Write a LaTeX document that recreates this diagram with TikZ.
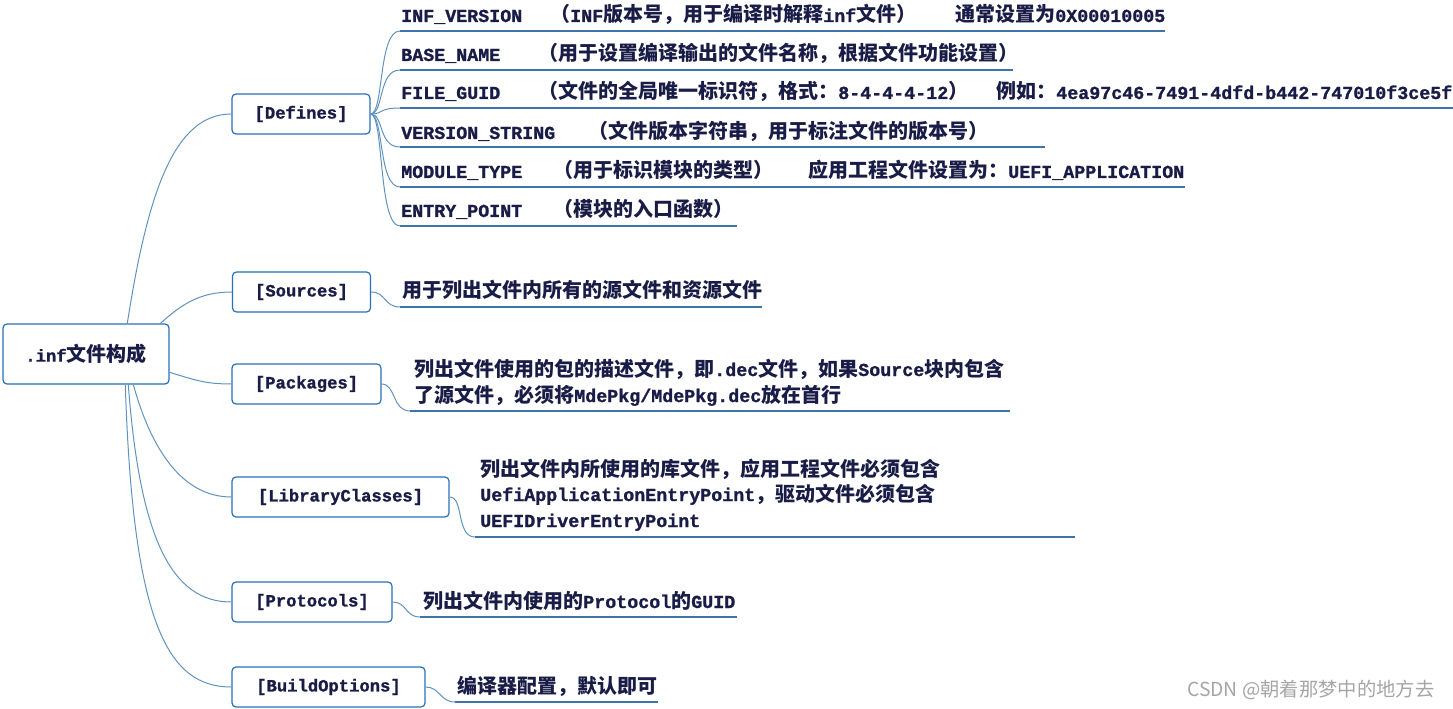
\documentclass[tikz,border=0pt]{standalone}
\usepackage{fontspec}
\setmainfont{Liberation Mono}[BoldFeatures={FakeBold=1.2}]
\newfontfamily\cjkf{Noto Sans CJK SC}
\newfontfamily\wmf{Noto Sans CJK SC}
\usetikzlibrary{calc}
\definecolor{txt}{RGB}{24,28,70}
\definecolor{boxc}{RGB}{40,112,184}
\definecolor{linec}{RGB}{96,146,192}
\definecolor{ulc}{RGB}{62,116,170}
\definecolor{wmc}{RGB}{165,165,165}
\newcommand\M[1]{{\fontsize{13.75}{16}\selectfont\bfseries #1}}
\newcommand\C[1]{{\cjkf\fontsize{15}{18}\selectfont\bfseries #1}}
\begin{document}
\begin{tikzpicture}[x=0.75pt,y=-0.75pt,
  lbl/.style={inner sep=0pt, anchor=base west, text=txt},
  box/.style={draw=boxc, line width=0.9pt, rounded corners=3pt, inner sep=0pt,
    minimum height=30pt, text=txt, font=\fontsize{12.9}{15}\selectfont\bfseries},
  conn/.style={draw=linec, line width=0.75pt},
  ul/.style={draw=ulc, line width=0.9pt}]
\useasboundingbox (0,0) rectangle (1453,709);

% main nodes
\node[box, minimum width=124.5pt, minimum height=45pt] (root) at (86,354) {.inf\C{文件构成}};
\node[box, minimum width=103.5pt] (defines) at (301,114) {[Defines]};
\node[box, minimum width=103.5pt] (sources) at (301.5,292) {[Sources]};
\node[box, minimum width=111.75pt] (packages) at (306.5,384) {[Packages]};
\node[box, minimum width=162.75pt] (libs) at (340.5,497) {[LibraryClasses]};
\node[box, minimum width=120pt] (protocols) at (312,602) {[Protocols]};
\node[box, minimum width=144.75pt] (build) at (328.5,687) {[BuildOptions]};

% root connectors
\draw[conn] ($(root.north west)!0.747!(root.north east)$) .. controls (148,190) and (175,114) .. (defines.west);
\draw[conn] ($(root.north west)!0.945!(root.north east)$) .. controls (182,304) and (200,292) .. (sources.west);
\draw[conn] ($(root.north east)!0.8!(root.south east)$) .. controls (195,380) and (205,384) .. (packages.west);
\draw[conn] ($(root.south west)!0.783!(root.south east)$) .. controls (150,445) and (180,497) .. (libs.west);
\draw[conn] ($(root.south west)!0.753!(root.south east)$) .. controls (140,540) and (172,602) .. (protocols.west);
\draw[conn] ($(root.south west)!0.735!(root.south east)$) .. controls (133,625) and (168,687) .. (build.west);

% Defines children: underline coordinates
\coordinate (u1s) at (400,31);  \coordinate (u1e) at (1165,31);
\coordinate (u2s) at (400,70);  \coordinate (u2e) at (1013,70);
\coordinate (u3s) at (400,108); \coordinate (u3e) at (1453,108);
\coordinate (u4s) at (400,147); \coordinate (u4e) at (1045,147);
\coordinate (u5s) at (400,187); \coordinate (u5e) at (1185,187);
\coordinate (u6s) at (400,226); \coordinate (u6e) at (737,226);
\foreach \i/\y in {1/31,2/70,3/108,4/147,5/187,6/226}{
  \draw[conn] (defines.east) .. controls (384,114) and (378,\y) .. (u\i s);
  \draw[ul] (u\i s) -- (u\i e);
}

% Defines children texts
\node[lbl] (d1k) at (401,22) {\M{INF\_VERSION}};
\node[lbl] (d1v) at (550,22) {\C{（}\M{INF}\C{版本号，用于编译时解释}\M{inf}\C{文件）}};
\node[lbl] (d1n) at (955,22) {\C{通常设置为}\M{0X00010005}};

\node[lbl] (d2k) at (401,61) {\M{BASE\_NAME}};
\node[lbl] (d2v) at (538,61) {\C{（用于设置编译输出的文件名称，根据文件功能设置）}};

\node[lbl] (d3k) at (401,99) {\M{FILE\_GUID}};
\node[lbl] (d3v) at (538,99) {\C{（文件的全局唯一标识符，格式：}\M{8-4-4-4-12}\C{）}};
\node[lbl] (d3n) at (996,99) {\C{例如：}\M{4ea97c46-7491-4dfd-b442-747010f3ce5f}};

\node[lbl] (d4k) at (401,139) {\M{VERSION\_STRING}};
\node[lbl] (d4v) at (588,139) {\C{（文件版本字符串，用于标注文件的版本号）}};

\node[lbl] (d5k) at (401,178) {\M{MODULE\_TYPE}};
\node[lbl] (d5v) at (553,178) {\C{（用于标识模块的类型）}};
\node[lbl] (d5n) at (808,178) {\C{应用工程文件设置为：}\M{UEFI\_APPLICATION}};

\node[lbl] (d6k) at (401,217) {\M{ENTRY\_POINT}};
\node[lbl] (d6v) at (553,217) {\C{（模块的入口函数）}};

% Sources
\coordinate (s1s) at (400,307); \coordinate (s1e) at (762,307);
\draw[conn] (sources.east) .. controls (386,292) and (384,307) .. (s1s);
\draw[ul] (s1s) -- (s1e);
\node[lbl] (st) at (402,298) {\C{用于列出文件内所有的源文件和资源文件}};

% Packages
\coordinate (p1s) at (410,411); \coordinate (p1e) at (1010,411);
\draw[conn] (packages.east) .. controls (396,384) and (392,411) .. (p1s);
\draw[ul] (p1s) -- (p1e);
\node[lbl] (pt1) at (414,376) {\C{列出文件使用的包的描述文件，即}\M{.dec}\C{文件，如果}\M{Source}\C{块内包含}};
\node[lbl] (pt2) at (414,402) {\C{了源文件，必须将}\M{MdePkg/MdePkg.dec}\C{放在首行}};

% LibraryClasses
\coordinate (l1s) at (475,537); \coordinate (l1e) at (1075,537);
\draw[conn] (libs.east) .. controls (464,497) and (456,537) .. (l1s);
\draw[ul] (l1s) -- (l1e);
\node[lbl] (lt1) at (480,476) {\C{列出文件内所使用的库文件，应用工程文件必须包含}};
\node[lbl] (lt2) at (480,501) {\M{UefiApplicationEntryPoint}\C{，驱动文件必须包含}};
\node[lbl] (lt3) at (480,527) {\M{UEFIDriverEntryPoint}};

% Protocols
\coordinate (r1s) at (420,617); \coordinate (r1e) at (737,617);
\draw[conn] (protocols.east) .. controls (407,602) and (405,617) .. (r1s);
\draw[ul] (r1s) -- (r1e);
\node[lbl] (rt) at (423,608) {\C{列出文件内使用的}\M{Protocol}\C{的}\M{GUID}};

% BuildOptions
\coordinate (b1s) at (455,702); \coordinate (b1e) at (658,702);
\draw[conn] (build.east) .. controls (440,687) and (440,702) .. (b1s);
\draw[ul] (b1s) -- (b1e);
\node[lbl] (bt) at (457,693) {\C{编译器配置，默认即可}};

% watermark
\node[anchor=west, inner sep=0pt, text=wmc, font=\wmf\fontsize{14.5}{17}\selectfont] (wm) at (1187,690) {CSDN @朝着那梦中的地方去};
\end{tikzpicture}
\end{document}
